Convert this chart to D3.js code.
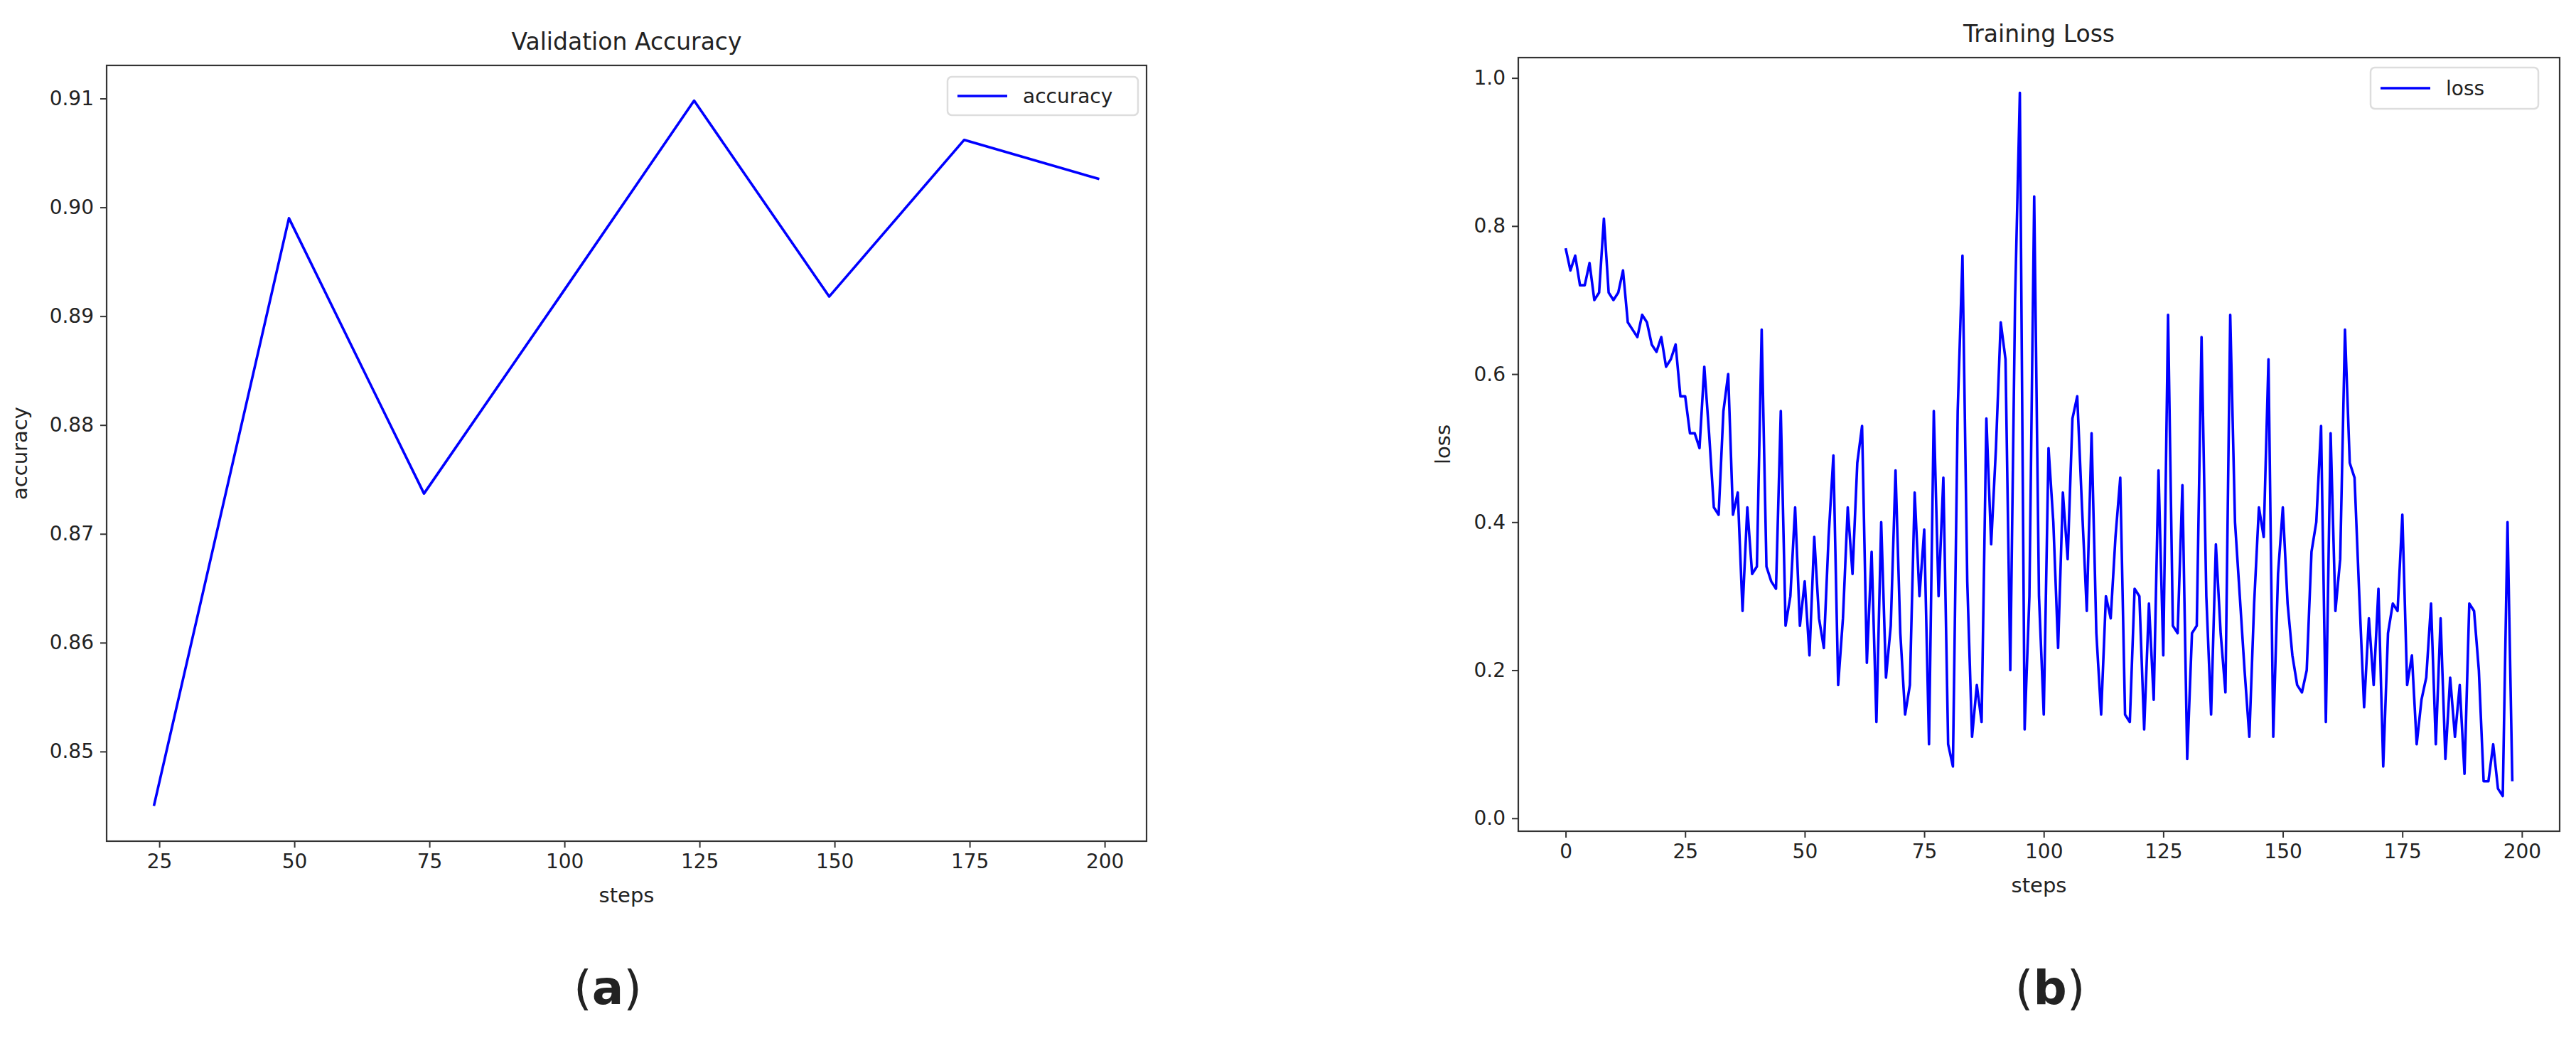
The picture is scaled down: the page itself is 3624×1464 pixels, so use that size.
<!DOCTYPE html>
<html><head><meta charset="utf-8">
<script src="https://cdn.jsdelivr.net/npm/d3@7"></script>
<style>body{margin:0;background:#fff}svg{display:block}text{font-family:"DejaVu Sans",sans-serif;fill:#222}</style>
</head><body>
<script>
const accSteps = [24,49,74,99,124,149,174,199];
const accValues = [0.845,0.899,0.8737,0.8917,0.9098,0.8918,0.9062,0.9026];
const accTicksX = [25,50,75,100,125,150,175,200];
const accTicksY = [0.85,0.86,0.87,0.88,0.89,0.90,0.91];
const lossValues = [0.77,0.74,0.76,0.72,0.72,0.75,0.70,0.71,0.81,0.71,0.70,0.71,0.74,0.67,0.66,0.65,0.68,0.67,0.64,0.63,
0.65,0.61,0.62,0.64,0.57,0.57,0.52,0.52,0.50,0.61,0.52,0.42,0.41,0.55,0.60,0.41,0.44,0.28,0.42,0.33,
0.34,0.66,0.34,0.32,0.31,0.55,0.26,0.30,0.42,0.26,0.32,0.22,0.38,0.27,0.23,0.38,0.49,0.18,0.27,0.42,
0.33,0.48,0.53,0.21,0.36,0.13,0.40,0.19,0.26,0.47,0.25,0.14,0.18,0.44,0.30,0.39,0.10,0.55,0.30,0.46,
0.10,0.07,0.55,0.76,0.32,0.11,0.18,0.13,0.54,0.37,0.50,0.67,0.62,0.20,0.70,0.98,0.12,0.30,0.84,0.30,
0.14,0.50,0.40,0.23,0.44,0.35,0.54,0.57,0.42,0.28,0.52,0.25,0.14,0.30,0.27,0.38,0.46,0.14,0.13,0.31,
0.30,0.12,0.29,0.16,0.47,0.22,0.68,0.26,0.25,0.45,0.08,0.25,0.26,0.65,0.30,0.14,0.37,0.25,0.17,0.68,
0.40,0.30,0.20,0.11,0.29,0.42,0.38,0.62,0.11,0.33,0.42,0.29,0.22,0.18,0.17,0.20,0.36,0.40,0.53,0.13,
0.52,0.28,0.35,0.66,0.48,0.46,0.30,0.15,0.27,0.18,0.31,0.07,0.25,0.29,0.28,0.41,0.18,0.22,0.10,0.16,
0.19,0.29,0.10,0.27,0.08,0.19,0.11,0.18,0.06,0.29,0.28,0.20,0.05,0.05,0.10,0.04,0.03,0.40,0.05];
const lossSteps = lossValues.map((v,i)=>i);
const lossTicksX = [0,25,50,75,100,125,150,175,200];
const lossTicksY = [0.0,0.2,0.4,0.6,0.8,1.0];

const W=3624,H=1464;
const svg=d3.select("body").append("svg").attr("width",W).attr("height",H);

function panel(o){
  const {x0,x1,y0,y1,xs,ys,xt,yt,fmtY,title,ylab,leg,legBox,sub,subX} = o;
  const g=svg.append("g");
  const xsc=d3.scaleLinear().domain(pad(d3.extent(xs))).range([x0,x1]);
  const ysc=d3.scaleLinear().domain(pad(d3.extent(ys))).range([y1,y0]);
  const line=d3.line().x((d,i)=>xsc(xs[i])).y(d=>ysc(d));
  g.append("path").datum(ys).attr("d",line).attr("fill","none").attr("stroke","#0000ff").attr("stroke-width",3.6).attr("stroke-linejoin","round");
  const ax=g.append("g").attr("transform",`translate(0,${y1})`).call(d3.axisBottom(xsc).tickValues(xt).tickFormat(d3.format("d")).tickSize(9).tickPadding(9));
  const ay=g.append("g").attr("transform",`translate(${x0},0)`).call(d3.axisLeft(ysc).tickValues(yt).tickFormat(d3.format(fmtY)).tickSize(9).tickPadding(9));
  [ax,ay].forEach(a=>{a.select(".domain").remove();a.selectAll("line").attr("stroke","#333").attr("stroke-width",2);a.selectAll("text").attr("font-size",28).attr("fill","#222").attr("font-family","DejaVu Sans");});
  g.append("rect").attr("x",x0).attr("y",y0).attr("width",x1-x0).attr("height",y1-y0).attr("fill","none").attr("stroke","#333").attr("stroke-width",2.2);
  g.append("text").attr("x",(x0+x1)/2).attr("y",y0-22).attr("text-anchor","middle").attr("font-size",33).text(title);
  g.append("text").attr("x",(x0+x1)/2).attr("y",y1+86).attr("text-anchor","middle").attr("font-size",29).text("steps");
  g.append("text").attr("transform",`translate(${o.ylabX},${(y0+y1)/2}) rotate(-90)`).attr("text-anchor","middle").attr("font-size",29).text(ylab);
  const [lx,ly,lw,lh]=legBox;
  g.append("rect").attr("x",lx).attr("y",ly).attr("width",lw).attr("height",lh).attr("rx",6).attr("fill","#fff").attr("stroke","#ddd").attr("stroke-width",2.5);
  g.append("line").attr("x1",lx+14).attr("x2",lx+84).attr("y1",ly+lh/2).attr("y2",ly+lh/2).attr("stroke","#0000ff").attr("stroke-width",3.6);
  g.append("text").attr("x",lx+106).attr("y",ly+lh/2+10).attr("font-size",28).text(leg);
  const s=svg.append("text").attr("x",subX).attr("y",1412).attr("text-anchor","middle").attr("font-family","Liberation Serif, serif").attr("font-size",66).attr("fill","#000");
  s.append("tspan").text("(");
  s.append("tspan").attr("font-weight","bold").text(sub);
  s.append("tspan").text(")");
}
function pad([a,b]){const m=(b-a)*0.05;return [a-m,b+m];}

panel({x0:150,x1:1613,y0:92,y1:1183,xs:accSteps,ys:accValues,xt:accTicksX,yt:accTicksY,fmtY:".2f",
  title:"Validation Accuracy",ylab:"accuracy",ylabX:38,leg:"accuracy",legBox:[1333,108,268,54],sub:"a",subX:855});
panel({x0:2136,x1:3601,y0:81,y1:1169,xs:lossSteps,ys:lossValues,xt:lossTicksX,yt:lossTicksY,fmtY:".1f",
  title:"Training Loss",ylab:"loss",ylabX:2040,leg:"loss",legBox:[3335,95,236,58],sub:"b",subX:2884});
</script>
</body></html>
